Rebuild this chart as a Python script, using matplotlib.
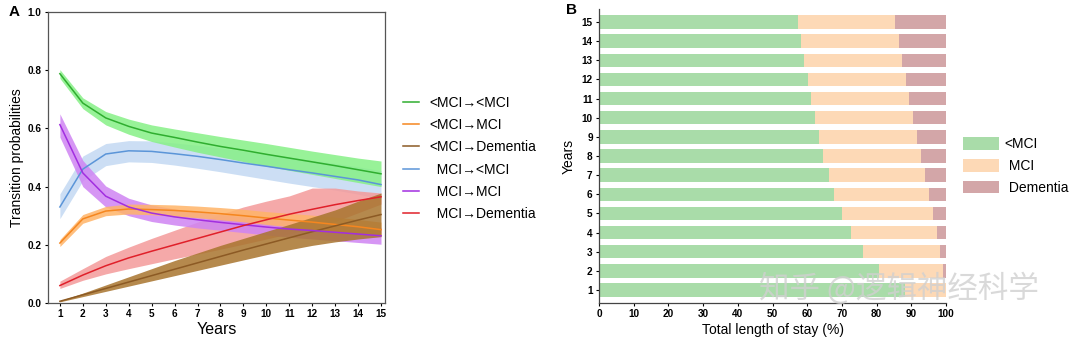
import matplotlib
matplotlib.use("Agg")
import matplotlib.pyplot as plt
import numpy as np

plt.rcParams['font.family'] = ['Liberation Sans', 'DejaVu Sans']

years = list(range(1, 16))

# Panel A: transition probabilities (mean, lower, upper)
p_nn = [0.788, 0.687, 0.636, 0.607, 0.584, 0.569, 0.553, 0.538, 0.525, 0.511, 0.498, 0.485, 0.472, 0.458, 0.444]
p_nn_lo = [0.772, 0.668, 0.612, 0.580, 0.555, 0.536, 0.518, 0.502, 0.486, 0.470, 0.456, 0.442, 0.428, 0.414, 0.400]
p_nn_hi = [0.802, 0.705, 0.658, 0.632, 0.612, 0.598, 0.585, 0.572, 0.560, 0.548, 0.535, 0.522, 0.510, 0.498, 0.488]

p_nm = [0.206, 0.289, 0.316, 0.323, 0.321, 0.318, 0.313, 0.307, 0.300, 0.292, 0.285, 0.278, 0.270, 0.262, 0.252]
p_nm_lo = [0.194, 0.274, 0.300, 0.306, 0.303, 0.299, 0.293, 0.286, 0.279, 0.270, 0.262, 0.254, 0.246, 0.238, 0.228]
p_nm_hi = [0.218, 0.304, 0.332, 0.340, 0.339, 0.337, 0.333, 0.328, 0.322, 0.314, 0.308, 0.302, 0.295, 0.287, 0.278]

p_nd = [0.006, 0.028, 0.050, 0.072, 0.094, 0.116, 0.138, 0.160, 0.182, 0.203, 0.224, 0.245, 0.265, 0.285, 0.304]
p_nd_lo = [0.004, 0.022, 0.040, 0.058, 0.076, 0.094, 0.112, 0.130, 0.148, 0.166, 0.183, 0.198, 0.210, 0.220, 0.228]
p_nd_hi = [0.008, 0.034, 0.062, 0.090, 0.118, 0.146, 0.172, 0.198, 0.222, 0.246, 0.270, 0.295, 0.320, 0.350, 0.378]

p_mn = [0.330, 0.460, 0.512, 0.523, 0.521, 0.513, 0.504, 0.493, 0.481, 0.470, 0.458, 0.447, 0.435, 0.423, 0.407]
p_mn_lo = [0.290, 0.420, 0.472, 0.485, 0.483, 0.474, 0.463, 0.451, 0.438, 0.425, 0.412, 0.400, 0.388, 0.374, 0.358]
p_mn_hi = [0.375, 0.505, 0.548, 0.558, 0.557, 0.550, 0.542, 0.533, 0.522, 0.512, 0.501, 0.490, 0.480, 0.468, 0.455]

p_mm = [0.613, 0.447, 0.367, 0.330, 0.309, 0.296, 0.286, 0.277, 0.269, 0.261, 0.254, 0.249, 0.243, 0.237, 0.231]
p_mm_lo = [0.570, 0.400, 0.330, 0.300, 0.280, 0.268, 0.258, 0.250, 0.242, 0.234, 0.226, 0.220, 0.214, 0.208, 0.202]
p_mm_hi = [0.650, 0.490, 0.402, 0.360, 0.337, 0.323, 0.313, 0.304, 0.296, 0.289, 0.282, 0.277, 0.271, 0.265, 0.260]

p_md = [0.060, 0.096, 0.128, 0.155, 0.178, 0.200, 0.222, 0.244, 0.266, 0.286, 0.305, 0.322, 0.338, 0.352, 0.365]
p_md_lo = [0.050, 0.078, 0.100, 0.118, 0.135, 0.152, 0.168, 0.185, 0.202, 0.220, 0.238, 0.256, 0.280, 0.310, 0.340]
p_md_hi = [0.075, 0.118, 0.160, 0.192, 0.222, 0.250, 0.278, 0.305, 0.330, 0.350, 0.368, 0.395, 0.395, 0.385, 0.378]

series_labels = ['<MCI\u2192<MCI', '<MCI\u2192MCI', '<MCI\u2192Dementia',
                 '  MCI\u2192<MCI', '  MCI\u2192MCI', '  MCI\u2192Dementia']
line_colors = ['#2fae2f', '#f5861f', '#8c5a24', '#5b95d8', '#a22ee0', '#e0202a']
fill_colors = ['#86f086', '#ffb468', '#a8742e', '#c3d9f3', '#cf84f3', '#f49a9a']

# Panel B: total length of stay (%)
b_years = list(range(1, 16))
stay_nci = [88.3, 80.8, 76.0, 72.5, 69.9, 67.8, 66.2, 64.6, 63.4, 62.2, 61.2, 60.1, 59.0, 58.2, 57.2]
stay_mci = [11.7, 18.4, 22.3, 24.8, 26.3, 27.3, 27.7, 28.2, 28.2, 28.4, 28.2, 28.3, 28.3, 28.1, 28.0]
stay_dem = [0.0, 0.8, 1.7, 2.7, 3.8, 4.9, 6.1, 7.2, 8.4, 9.4, 10.6, 11.6, 12.7, 13.7, 14.8]
stay_labels = ['<MCI', ' MCI', ' Dementia']
stay_colors = ['#a9dca9', '#fdd9b6', '#d3a6a8']

fig = plt.figure(figsize=(10.8, 3.49), dpi=100)

# ---- Panel A ----
axA = fig.add_axes([0.0444, 0.1318, 0.3120, 0.8338])
means = [p_nn, p_nm, p_nd, p_mn, p_mm, p_md]
los = [p_nn_lo, p_nm_lo, p_nd_lo, p_mn_lo, p_mm_lo, p_md_lo]
his = [p_nn_hi, p_nm_hi, p_nd_hi, p_mn_hi, p_mm_hi, p_md_hi]
order_fill = [3, 0, 5, 4, 1, 2]
for i in order_fill:
    axA.fill_between(years, los[i], his[i], color=fill_colors[i], alpha=0.85, linewidth=0)
handles = []
for i in range(6):
    h, = axA.plot(years, means[i], color=line_colors[i], lw=1.1, label=series_labels[i])
    handles.append(h)
axA.set_xlim(0.48, 15.17)
axA.set_ylim(0, 1.0)
axA.set_xticks(years)
axA.set_yticks([0.0, 0.2, 0.4, 0.6, 0.8, 1.0])
axA.set_yticklabels(['0.0', '0.2', '0.4', '0.6', '0.8', '1.0'])
for lab in axA.get_xticklabels() + axA.get_yticklabels():
    lab.set_fontweight('bold')
    lab.set_fontsize(7.2)
axA.tick_params(direction='out', length=2.5, width=0.8, pad=2)
for s in axA.spines.values():
    s.set_color('#555555')
    s.set_linewidth(0.9)
axA.set_xlabel('Years', fontsize=11.5, labelpad=2)
axA.set_ylabel('Transition probabilities', fontsize=10, labelpad=3)
fig.legend(handles=handles, labels=series_labels, loc='upper left',
           bbox_to_anchor=(0.362, 0.762), frameon=False, fontsize=10,
           handlelength=1.1, handletextpad=0.75, labelspacing=0.6)
fig.text(0.008, 0.965, 'A', fontsize=11, fontweight='bold', va='center')

# ---- Panel B ----
axB = fig.add_axes([0.5546, 0.1318, 0.3214, 0.8424])
left = np.zeros(len(b_years))
bh = []
for vals, c, lab in zip([stay_nci, stay_mci, stay_dem], stay_colors, stay_labels):
    b = axB.barh(b_years, vals, left=left, height=0.7, color=c, label=lab, linewidth=0)
    bh.append(b)
    left = left + np.array(vals)
axB.set_xlim(0, 100)
axB.set_ylim(0.32, 15.68)
axB.set_yticks(b_years)
axB.set_xticks(range(0, 101, 10))
for lab in axB.get_xticklabels() + axB.get_yticklabels():
    lab.set_fontweight('bold')
    lab.set_fontsize(7.2)
axB.tick_params(direction='out', length=2.5, width=0.8, pad=2)
axB.spines['top'].set_visible(False)
axB.spines['right'].set_visible(False)
for s in ['left', 'bottom']:
    axB.spines[s].set_color('#444444')
    axB.spines[s].set_linewidth(0.9)
axB.set_xlabel('Total length of stay (%)', fontsize=10, labelpad=3)
axB.set_ylabel('Years', fontsize=10, labelpad=4)
fig.legend(handles=bh, labels=stay_labels, loc='upper left',
           bbox_to_anchor=(0.880, 0.642), frameon=False, fontsize=10,
           handlelength=2.6, handleheight=1.0, handletextpad=0.4, labelspacing=0.55)
fig.text(0.524, 0.972, 'B', fontsize=11, fontweight='bold', va='center')

# watermark
fig.text(0.703, 0.172, '知乎 @逻辑神经科学', fontsize=22, color='#d0d0d0', alpha=0.8,
         family=['Noto Sans CJK SC', 'DejaVu Sans'], va='center')

fig.savefig('out.png', dpi=100)
